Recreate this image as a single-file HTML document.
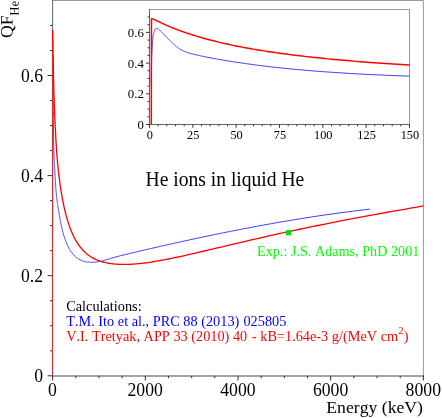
<!DOCTYPE html>
<html><head><meta charset="utf-8"><title>QF He</title>
<style>
html,body{margin:0;padding:0;background:#fff;}
svg{display:block;font-family:"Liberation Serif",serif;font-kerning:none;}
</style></head>
<body>
<svg width="442" height="418" viewBox="0 0 442 418">
<rect width="442" height="418" fill="#fff"/>
<path d="M52.60,0.5 H423.40 V376.5" fill="none" stroke="#999" stroke-width="1"/>
<g stroke="#666" stroke-width="1" fill="none">
<line x1="52.60" y1="0" x2="52.60" y2="376.30"/>
<line x1="52.10" y1="376" x2="423.90" y2="376" stroke="#484848"/>
</g>
<g stroke="#333" stroke-width="1" fill="none">
<line x1="47.60" y1="375.80" x2="52.60" y2="375.80"/>
<line x1="50.00" y1="350.78" x2="52.60" y2="350.78"/>
<line x1="50.00" y1="325.75" x2="52.60" y2="325.75"/>
<line x1="50.00" y1="300.73" x2="52.60" y2="300.73"/>
<line x1="47.60" y1="275.70" x2="52.60" y2="275.70"/>
<line x1="50.00" y1="250.68" x2="52.60" y2="250.68"/>
<line x1="50.00" y1="225.65" x2="52.60" y2="225.65"/>
<line x1="50.00" y1="200.62" x2="52.60" y2="200.62"/>
<line x1="47.60" y1="175.60" x2="52.60" y2="175.60"/>
<line x1="50.00" y1="150.58" x2="52.60" y2="150.58"/>
<line x1="50.00" y1="125.55" x2="52.60" y2="125.55"/>
<line x1="50.00" y1="100.52" x2="52.60" y2="100.52"/>
<line x1="47.60" y1="75.50" x2="52.60" y2="75.50"/>
<line x1="50.00" y1="50.48" x2="52.60" y2="50.48"/>
<line x1="50.00" y1="25.45" x2="52.60" y2="25.45"/>
<line x1="52.60" y1="375.80" x2="52.60" y2="380.50"/>
<line x1="75.78" y1="375.80" x2="75.78" y2="378.20"/>
<line x1="98.95" y1="375.80" x2="98.95" y2="378.20"/>
<line x1="122.12" y1="375.80" x2="122.12" y2="378.20"/>
<line x1="145.30" y1="375.80" x2="145.30" y2="380.50"/>
<line x1="168.47" y1="375.80" x2="168.47" y2="378.20"/>
<line x1="191.65" y1="375.80" x2="191.65" y2="378.20"/>
<line x1="214.82" y1="375.80" x2="214.82" y2="378.20"/>
<line x1="238.00" y1="375.80" x2="238.00" y2="380.50"/>
<line x1="261.18" y1="375.80" x2="261.18" y2="378.20"/>
<line x1="284.35" y1="375.80" x2="284.35" y2="378.20"/>
<line x1="307.53" y1="375.80" x2="307.53" y2="378.20"/>
<line x1="330.70" y1="375.80" x2="330.70" y2="380.50"/>
<line x1="353.88" y1="375.80" x2="353.88" y2="378.20"/>
<line x1="377.05" y1="375.80" x2="377.05" y2="378.20"/>
<line x1="400.23" y1="375.80" x2="400.23" y2="378.20"/>
<line x1="423.40" y1="375.80" x2="423.40" y2="380.50"/>
</g>
<path d="M52.65,233.23 L52.65,222.92 L52.65,213.44 L52.65,204.74 L52.65,196.77 L52.65,189.51 L52.65,182.90 L52.65,176.90 L52.65,171.47 L52.65,166.57 L52.66,162.16 L52.66,158.19 L52.66,154.62 L52.66,151.41 L52.66,148.53 L52.66,145.91 L52.66,143.53 L52.66,141.35 L52.66,139.31 L52.66,137.38 L52.67,135.52 L52.67,133.68 L52.67,131.82 L52.67,129.90 L52.67,127.87 L52.67,125.70 L52.67,123.36 L52.67,120.86 L52.68,118.24 L52.68,115.52 L52.68,112.76 L52.68,109.97 L52.68,107.19 L52.68,104.46 L52.68,101.81 L52.69,99.27 L52.69,96.87 L52.69,94.64 L52.69,92.56 L52.69,90.63 L52.69,88.83 L52.70,87.16 L52.70,85.61 L52.70,84.18 L52.70,82.85 L52.70,81.62 L52.70,80.48 L52.71,79.42 L52.71,78.44 L52.71,77.52 L52.71,76.66 L52.71,75.85 L52.72,75.09 L52.72,74.36 L52.72,73.65 L52.72,72.97 L52.72,72.31 L52.73,71.67 L52.73,71.05 L52.73,70.46 L52.73,69.88 L52.74,69.32 L52.74,68.79 L52.74,68.28 L52.74,67.79 L52.75,67.33 L52.75,66.89 L52.75,66.47 L52.75,66.07 L52.76,65.70 L52.76,65.35 L52.76,65.03 L52.77,64.73 L52.77,64.46 L52.77,64.21 L52.77,63.98 L52.78,63.78 L52.78,63.61 L52.78,63.47 L52.79,63.34 L52.79,63.25 L52.79,63.18 L52.80,63.14 L52.80,63.13 L52.80,63.15 L52.81,63.19 L52.81,63.26 L52.82,63.36 L52.82,63.49 L52.82,63.65 L52.83,63.83 L52.83,64.05 L52.84,64.29 L52.84,64.57 L52.84,64.87 L52.85,65.21 L52.85,65.57 L52.86,65.97 L52.86,66.40 L52.87,66.85 L52.87,67.35 L52.88,67.87 L52.88,68.42 L52.89,68.99 L52.89,69.60 L52.90,70.24 L52.90,70.90 L52.91,71.58 L52.91,72.30 L52.92,73.03 L52.92,73.79 L52.93,74.58 L52.94,75.38 L52.94,76.21 L52.95,77.05 L52.95,77.92 L52.96,78.81 L52.97,79.71 L52.97,80.63 L52.98,81.57 L52.99,82.53 L52.99,83.50 L53.00,84.48 L53.01,85.48 L53.02,86.49 L53.02,87.52 L53.03,88.55 L53.04,89.60 L53.05,90.66 L53.05,91.72 L53.06,92.80 L53.07,93.88 L53.08,94.97 L53.09,96.07 L53.10,97.17 L53.11,98.28 L53.11,99.39 L53.12,100.51 L53.13,101.62 L53.14,102.74 L53.15,103.87 L53.16,104.99 L53.17,106.12 L53.18,107.24 L53.19,108.37 L53.20,109.49 L53.21,110.62 L53.23,111.74 L53.24,112.86 L53.25,113.98 L53.26,115.10 L53.27,116.21 L53.28,117.32 L53.30,118.43 L53.31,119.53 L53.32,120.62 L53.33,121.71 L53.35,122.80 L53.36,123.87 L53.37,124.94 L53.39,126.01 L53.40,127.06 L53.42,128.11 L53.43,129.14 L53.44,130.17 L53.46,131.19 L53.47,132.20 L53.49,133.19 L53.51,134.18 L53.52,135.15 L53.54,136.11 L53.56,137.06 L53.57,138.00 L53.59,138.92 L53.61,139.82 L53.63,140.72 L53.64,141.59 L53.66,142.45 L53.68,143.30 L53.70,144.13 L53.72,144.94 L53.74,145.74 L53.76,146.52 L53.78,147.29 L53.80,148.04 L53.82,148.78 L53.85,149.51 L53.87,150.23 L53.89,150.94 L53.91,151.63 L53.94,152.32 L53.96,153.00 L53.99,153.67 L54.01,154.34 L54.04,154.99 L54.06,155.64 L54.09,156.29 L54.11,156.93 L54.14,157.57 L54.17,158.20 L54.20,158.84 L54.23,159.47 L54.25,160.09 L54.28,160.72 L54.31,161.35 L54.34,161.98 L54.38,162.61 L54.41,163.25 L54.44,163.89 L54.47,164.53 L54.51,165.17 L54.54,165.82 L54.57,166.48 L54.61,167.14 L54.65,167.81 L54.68,168.49 L54.72,169.18 L54.76,169.87 L54.80,170.58 L54.84,171.30 L54.88,172.03 L54.92,172.77 L54.96,173.52 L55.00,174.29 L55.04,175.07 L55.09,175.85 L55.13,176.65 L55.18,177.46 L55.22,178.28 L55.27,179.10 L55.32,179.92 L55.36,180.75 L55.41,181.58 L55.46,182.41 L55.51,183.24 L55.57,184.07 L55.62,184.90 L55.67,185.72 L55.73,186.54 L55.78,187.34 L55.84,188.15 L55.90,188.94 L55.96,189.72 L56.02,190.49 L56.08,191.25 L56.14,191.99 L56.20,192.72 L56.27,193.43 L56.33,194.12 L56.40,194.81 L56.47,195.48 L56.54,196.14 L56.61,196.78 L56.68,197.42 L56.75,198.05 L56.83,198.67 L56.90,199.29 L56.98,199.89 L57.06,200.50 L57.14,201.09 L57.22,201.69 L57.30,202.28 L57.38,202.87 L57.47,203.46 L57.56,204.05 L57.65,204.65 L57.74,205.24 L57.83,205.84 L57.92,206.44 L58.02,207.05 L58.11,207.66 L58.21,208.28 L58.31,208.91 L58.41,209.54 L58.52,210.17 L58.62,210.82 L58.73,211.47 L58.84,212.13 L58.95,212.79 L59.06,213.46 L59.18,214.14 L59.30,214.82 L59.42,215.52 L59.54,216.22 L59.66,216.92 L59.79,217.64 L59.92,218.36 L60.05,219.08 L60.18,219.81 L60.32,220.54 L60.45,221.27 L60.59,222.00 L60.74,222.73 L60.88,223.46 L61.03,224.19 L61.18,224.91 L61.33,225.63 L61.49,226.35 L61.65,227.07 L61.81,227.78 L61.97,228.49 L62.14,229.19 L62.31,229.89 L62.49,230.59 L62.66,231.28 L62.84,231.97 L63.02,232.65 L63.21,233.33 L63.40,234.01 L63.59,234.68 L63.79,235.34 L63.99,236.00 L64.19,236.66 L64.40,237.31 L64.61,237.95 L64.82,238.59 L65.04,239.23 L65.26,239.85 L65.49,240.48 L65.72,241.09 L65.96,241.70 L66.19,242.31 L66.44,242.90 L66.68,243.49 L66.93,244.08 L67.19,244.65 L67.45,245.22 L67.72,245.79 L67.99,246.34 L68.26,246.89 L68.54,247.44 L68.83,247.97 L69.12,248.50 L69.41,249.01 L69.71,249.53 L70.02,250.03 L70.33,250.52 L70.64,251.01 L70.97,251.49 L71.29,251.96 L71.63,252.42 L71.97,252.87 L72.31,253.31 L72.66,253.75 L73.02,254.17 L73.39,254.59 L73.76,254.99 L74.14,255.39 L74.52,255.78 L74.91,256.15 L75.31,256.52 L75.72,256.88 L76.13,257.22 L76.55,257.56 L76.98,257.89 L77.41,258.20 L77.86,258.51 L78.31,258.80 L78.77,259.09 L79.23,259.36 L79.71,259.62 L80.19,259.87 L80.68,260.11 L81.19,260.33 L81.70,260.55 L82.22,260.75 L82.75,260.94 L83.28,261.12 L83.83,261.29 L84.39,261.45 L84.96,261.59 L85.53,261.72 L86.12,261.83 L86.72,261.94 L87.33,262.03 L87.95,262.11 L88.58,262.17 L89.22,262.22 L89.88,262.26 L90.54,262.29 L91.22,262.30 L91.91,262.29 L92.61,262.28 L93.33,262.25 L94.05,262.20 L94.79,262.14 L95.55,262.07 L96.31,261.98 L97.10,261.88 L97.89,261.76 L98.70,261.63 L99.52,261.48 L100.36,261.32 L101.21,261.14 L102.08,260.94 L102.96,260.72 L103.86,260.48 L104.78,260.23 L105.71,259.97 L106.66,259.69 L107.62,259.41 L108.61,259.11 L109.61,258.81 L110.62,258.50 L111.66,258.19 L112.71,257.88 L113.79,257.56 L114.88,257.25 L115.99,256.94 L117.12,256.63 L118.28,256.31 L119.45,256.01 L120.64,255.70 L121.86,255.39 L123.09,255.09 L124.35,254.78 L125.63,254.47 L126.94,254.16 L128.27,253.84 L129.62,253.52 L130.99,253.19 L132.39,252.86 L133.82,252.52 L135.27,252.18 L136.74,251.83 L138.25,251.48 L139.77,251.12 L141.33,250.76 L142.92,250.39 L144.53,250.01 L146.17,249.63 L147.84,249.24 L149.54,248.85 L151.27,248.45 L153.03,248.05 L154.83,247.63 L156.65,247.22 L158.51,246.79 L160.40,246.36 L162.33,245.93 L164.29,245.48 L166.28,245.03 L168.31,244.58 L170.38,244.11 L172.48,243.65 L174.62,243.17 L176.80,242.69 L179.02,242.20 L181.27,241.70 L183.57,241.19 L185.91,240.68 L188.29,240.17 L190.71,239.64 L193.18,239.11 L195.69,238.57 L198.24,238.02 L200.84,237.47 L203.49,236.91 L206.19,236.34 L208.93,235.77 L211.72,235.19 L214.56,234.60 L217.45,234.00 L220.40,233.40 L223.39,232.79 L226.44,232.18 L229.55,231.56 L232.71,230.93 L235.92,230.29 L239.19,229.65 L242.53,229.01 L245.92,228.35 L249.37,227.70 L252.88,227.03 L256.46,226.36 L260.10,225.69 L263.80,225.01 L267.58,224.33 L271.41,223.64 L275.32,222.95 L279.30,222.26 L283.35,221.56 L287.47,220.86 L291.66,220.16 L295.93,219.45 L300.27,218.75 L304.70,218.04 L309.20,217.34 L313.78,216.63 L318.44,215.93 L323.19,215.23 L328.02,214.53 L332.94,213.83 L337.94,213.14 L343.04,212.45 L348.23,211.77 L353.50,211.10 L358.88,210.44 L364.35,209.78 L369.91,209.14" fill="none" stroke="#3030ff" stroke-width="0.95"/>
<line x1="52.50" y1="375.80" x2="52.50" y2="30.09" stroke="#cc3030" stroke-width="1.1"/>
<path d="M52.66,30.09 L52.66,30.21 L52.66,30.32 L52.66,30.43 L52.66,30.54 L52.66,30.65 L52.66,30.76 L52.66,30.86 L52.66,30.96 L52.67,31.06 L52.67,31.15 L52.67,31.25 L52.67,31.34 L52.67,31.43 L52.67,31.52 L52.67,31.60 L52.67,31.69 L52.68,31.77 L52.68,31.86 L52.68,31.94 L52.68,32.02 L52.68,32.10 L52.68,32.18 L52.68,32.26 L52.68,32.34 L52.69,32.41 L52.69,32.49 L52.69,32.57 L52.69,32.64 L52.69,32.72 L52.69,32.80 L52.70,32.87 L52.70,32.95 L52.70,33.03 L52.70,33.10 L52.70,33.18 L52.70,33.26 L52.71,33.34 L52.71,33.42 L52.71,33.50 L52.71,33.58 L52.71,33.66 L52.72,33.74 L52.72,33.83 L52.72,33.92 L52.72,34.00 L52.73,34.09 L52.73,34.18 L52.73,34.27 L52.73,34.37 L52.73,34.46 L52.74,34.56 L52.74,34.66 L52.74,34.76 L52.74,34.87 L52.75,34.98 L52.75,35.08 L52.75,35.20 L52.75,35.31 L52.76,35.43 L52.76,35.55 L52.76,35.67 L52.77,35.80 L52.77,35.93 L52.77,36.06 L52.78,36.20 L52.78,36.34 L52.78,36.48 L52.78,36.63 L52.79,36.78 L52.79,36.93 L52.79,37.09 L52.80,37.25 L52.80,37.42 L52.81,37.59 L52.81,37.77 L52.81,37.95 L52.82,38.13 L52.82,38.32 L52.82,38.51 L52.83,38.71 L52.83,38.92 L52.84,39.13 L52.84,39.34 L52.84,39.56 L52.85,39.78 L52.85,40.01 L52.86,40.25 L52.86,40.49 L52.87,40.74 L52.87,40.99 L52.88,41.25 L52.88,41.51 L52.89,41.78 L52.89,42.06 L52.90,42.34 L52.90,42.63 L52.91,42.93 L52.91,43.23 L52.92,43.54 L52.92,43.85 L52.93,44.18 L52.94,44.51 L52.94,44.84 L52.95,45.19 L52.95,45.54 L52.96,45.90 L52.97,46.27 L52.97,46.64 L52.98,47.02 L52.99,47.41 L52.99,47.81 L53.00,48.21 L53.01,48.62 L53.02,49.04 L53.02,49.47 L53.03,49.90 L53.04,50.34 L53.05,50.79 L53.05,51.24 L53.06,51.70 L53.07,52.17 L53.08,52.65 L53.09,53.13 L53.10,53.62 L53.10,54.11 L53.11,54.62 L53.12,55.13 L53.13,55.65 L53.14,56.17 L53.15,56.70 L53.16,57.24 L53.17,57.78 L53.18,58.33 L53.19,58.89 L53.20,59.46 L53.21,60.03 L53.22,60.60 L53.23,61.19 L53.25,61.78 L53.26,62.37 L53.27,62.98 L53.28,63.59 L53.29,64.20 L53.31,64.82 L53.32,65.45 L53.33,66.09 L53.34,66.73 L53.36,67.38 L53.37,68.03 L53.38,68.69 L53.40,69.35 L53.41,70.03 L53.43,70.70 L53.44,71.39 L53.46,72.08 L53.47,72.77 L53.49,73.47 L53.50,74.18 L53.52,74.89 L53.54,75.61 L53.55,76.33 L53.57,77.06 L53.59,77.80 L53.60,78.54 L53.62,79.29 L53.64,80.04 L53.66,80.80 L53.68,81.56 L53.70,82.33 L53.72,83.11 L53.74,83.89 L53.76,84.67 L53.78,85.46 L53.80,86.26 L53.82,87.06 L53.84,87.87 L53.86,88.68 L53.89,89.49 L53.91,90.32 L53.93,91.14 L53.96,91.98 L53.98,92.81 L54.00,93.66 L54.03,94.50 L54.06,95.36 L54.08,96.21 L54.11,97.07 L54.13,97.94 L54.16,98.81 L54.19,99.69 L54.22,100.57 L54.25,101.46 L54.28,102.35 L54.31,103.24 L54.34,104.14 L54.37,105.05 L54.40,105.95 L54.43,106.87 L54.46,107.79 L54.50,108.71 L54.53,109.63 L54.56,110.57 L54.60,111.50 L54.63,112.44 L54.67,113.39 L54.71,114.33 L54.75,115.29 L54.78,116.24 L54.82,117.20 L54.86,118.17 L54.90,119.14 L54.94,120.11 L54.98,121.09 L55.03,122.07 L55.07,123.05 L55.11,124.04 L55.16,125.03 L55.20,126.03 L55.25,127.02 L55.30,128.02 L55.35,129.03 L55.40,130.03 L55.45,131.04 L55.50,132.04 L55.55,133.05 L55.60,134.07 L55.65,135.08 L55.71,136.09 L55.76,137.11 L55.82,138.12 L55.88,139.14 L55.93,140.15 L55.99,141.17 L56.05,142.18 L56.12,143.20 L56.18,144.21 L56.24,145.22 L56.31,146.24 L56.37,147.25 L56.44,148.26 L56.51,149.26 L56.58,150.27 L56.65,151.27 L56.72,152.28 L56.79,153.28 L56.87,154.27 L56.95,155.27 L57.02,156.26 L57.10,157.24 L57.18,158.23 L57.26,159.21 L57.35,160.18 L57.43,161.16 L57.52,162.12 L57.60,163.09 L57.69,164.05 L57.78,165.01 L57.88,165.96 L57.97,166.91 L58.07,167.86 L58.16,168.81 L58.26,169.75 L58.36,170.69 L58.47,171.63 L58.57,172.57 L58.68,173.51 L58.78,174.44 L58.89,175.37 L59.01,176.31 L59.12,177.24 L59.24,178.17 L59.35,179.10 L59.47,180.03 L59.60,180.97 L59.72,181.90 L59.85,182.83 L59.98,183.76 L60.11,184.69 L60.24,185.62 L60.38,186.56 L60.52,187.49 L60.66,188.42 L60.80,189.35 L60.95,190.28 L61.10,191.21 L61.25,192.14 L61.40,193.07 L61.56,193.99 L61.72,194.92 L61.88,195.85 L62.05,196.78 L62.21,197.70 L62.38,198.63 L62.56,199.56 L62.74,200.48 L62.92,201.40 L63.10,202.33 L63.29,203.25 L63.48,204.17 L63.67,205.09 L63.87,206.01 L64.07,206.92 L64.27,207.84 L64.48,208.75 L64.69,209.66 L64.91,210.57 L65.13,211.47 L65.35,212.38 L65.58,213.28 L65.81,214.17 L66.04,215.07 L66.28,215.96 L66.52,216.85 L66.77,217.73 L67.03,218.61 L67.28,219.49 L67.54,220.36 L67.81,221.23 L68.08,222.09 L68.36,222.95 L68.64,223.81 L68.92,224.66 L69.21,225.50 L69.51,226.34 L69.81,227.17 L70.12,228.00 L70.43,228.83 L70.74,229.64 L71.07,230.45 L71.40,231.26 L71.73,232.06 L72.07,232.85 L72.42,233.64 L72.77,234.42 L73.13,235.19 L73.50,235.96 L73.87,236.71 L74.25,237.47 L74.63,238.21 L75.02,238.94 L75.42,239.67 L75.83,240.39 L76.24,241.10 L76.66,241.81 L77.09,242.50 L77.53,243.19 L77.97,243.87 L78.42,244.54 L78.88,245.20 L79.35,245.85 L79.83,246.49 L80.31,247.12 L80.80,247.74 L81.31,248.35 L81.82,248.95 L82.34,249.55 L82.87,250.13 L83.41,250.70 L83.95,251.26 L84.51,251.81 L85.08,252.35 L85.66,252.87 L86.25,253.39 L86.85,253.89 L87.46,254.39 L88.08,254.87 L88.71,255.34 L89.35,255.80 L90.01,256.25 L90.67,256.69 L91.35,257.11 L92.04,257.52 L92.74,257.93 L93.46,258.32 L94.18,258.69 L94.92,259.06 L95.68,259.42 L96.44,259.76 L97.22,260.09 L98.02,260.41 L98.83,260.72 L99.65,261.01 L100.49,261.29 L101.34,261.56 L102.21,261.81 L103.09,262.05 L103.99,262.28 L104.90,262.49 L105.83,262.70 L106.78,262.89 L107.75,263.07 L108.73,263.24 L109.73,263.40 L110.74,263.55 L111.78,263.68 L112.83,263.81 L113.91,263.93 L115.00,264.03 L116.11,264.12 L117.24,264.21 L118.39,264.28 L119.56,264.34 L120.75,264.38 L121.97,264.42 L123.20,264.44 L124.46,264.44 L125.74,264.44 L127.04,264.41 L128.36,264.37 L129.71,264.32 L131.08,264.26 L132.48,264.17 L133.90,264.08 L135.35,263.97 L136.82,263.84 L138.32,263.70 L139.85,263.55 L141.40,263.38 L142.98,263.19 L144.59,262.99 L146.23,262.78 L147.90,262.55 L149.59,262.30 L151.32,262.04 L153.08,261.76 L154.87,261.47 L156.69,261.16 L158.54,260.84 L160.43,260.50 L162.34,260.15 L164.30,259.78 L166.29,259.40 L168.31,259.00 L170.37,258.59 L172.47,258.16 L174.60,257.71 L176.77,257.26 L178.98,256.78 L181.23,256.29 L183.52,255.79 L185.85,255.27 L188.23,254.74 L190.64,254.19 L193.10,253.63 L195.60,253.06 L198.14,252.47 L200.73,251.87 L203.37,251.25 L206.06,250.62 L208.79,249.98 L211.57,249.32 L214.40,248.65 L217.28,247.97 L220.21,247.27 L223.19,246.57 L226.23,245.85 L229.32,245.11 L232.47,244.37 L235.67,243.62 L238.93,242.85 L242.24,242.07 L245.62,241.28 L249.06,240.49 L252.55,239.68 L256.11,238.86 L259.74,238.03 L263.42,237.19 L267.18,236.34 L271.00,235.48 L274.88,234.62 L278.84,233.74 L282.87,232.86 L286.97,231.97 L291.14,231.06 L295.39,230.16 L299.71,229.24 L304.11,228.32 L308.58,227.38 L313.14,226.45 L317.78,225.50 L322.50,224.55 L327.30,223.58 L332.20,222.62 L337.17,221.64 L342.24,220.66 L347.39,219.67 L352.64,218.67 L357.98,217.66 L363.42,216.65 L368.95,215.63 L374.58,214.60 L380.32,213.56 L386.15,212.51 L392.09,211.45 L398.13,210.38 L404.28,209.29 L410.54,208.20 L416.91,207.09 L423.40,205.97" fill="none" stroke="#ff0000" stroke-width="1.3" stroke-linejoin="round"/>
<rect x="286" y="230.1" width="5.2" height="5.2" fill="#00e000"/>
<rect x="149.50" y="9.5" width="260.00" height="115.00" fill="#fff" stroke="#999" stroke-width="1"/>
<g stroke="#666" stroke-width="1" fill="none">
<line x1="149.50" y1="9" x2="149.50" y2="125.00"/>
<line x1="149.00" y1="124.50" x2="410.00" y2="124.50"/>
</g>
<g stroke="#333" stroke-width="1" fill="none">
<line x1="146.00" y1="124.50" x2="149.50" y2="124.50"/>
<line x1="147.50" y1="116.83" x2="149.50" y2="116.83"/>
<line x1="147.50" y1="109.15" x2="149.50" y2="109.15"/>
<line x1="147.50" y1="101.47" x2="149.50" y2="101.47"/>
<line x1="146.00" y1="93.80" x2="149.50" y2="93.80"/>
<line x1="147.50" y1="86.12" x2="149.50" y2="86.12"/>
<line x1="147.50" y1="78.45" x2="149.50" y2="78.45"/>
<line x1="147.50" y1="70.77" x2="149.50" y2="70.77"/>
<line x1="146.00" y1="63.10" x2="149.50" y2="63.10"/>
<line x1="147.50" y1="55.42" x2="149.50" y2="55.42"/>
<line x1="147.50" y1="47.75" x2="149.50" y2="47.75"/>
<line x1="147.50" y1="40.07" x2="149.50" y2="40.07"/>
<line x1="146.00" y1="32.40" x2="149.50" y2="32.40"/>
<line x1="147.50" y1="24.72" x2="149.50" y2="24.72"/>
<line x1="147.50" y1="17.05" x2="149.50" y2="17.05"/>
<line x1="149.50" y1="124.50" x2="149.50" y2="127.80"/>
<line x1="158.17" y1="124.50" x2="158.17" y2="126.30"/>
<line x1="166.83" y1="124.50" x2="166.83" y2="126.30"/>
<line x1="175.50" y1="124.50" x2="175.50" y2="126.30"/>
<line x1="184.17" y1="124.50" x2="184.17" y2="126.30"/>
<line x1="192.83" y1="124.50" x2="192.83" y2="127.80"/>
<line x1="201.50" y1="124.50" x2="201.50" y2="126.30"/>
<line x1="210.17" y1="124.50" x2="210.17" y2="126.30"/>
<line x1="218.83" y1="124.50" x2="218.83" y2="126.30"/>
<line x1="227.50" y1="124.50" x2="227.50" y2="126.30"/>
<line x1="236.17" y1="124.50" x2="236.17" y2="127.80"/>
<line x1="244.83" y1="124.50" x2="244.83" y2="126.30"/>
<line x1="253.50" y1="124.50" x2="253.50" y2="126.30"/>
<line x1="262.16" y1="124.50" x2="262.16" y2="126.30"/>
<line x1="270.83" y1="124.50" x2="270.83" y2="126.30"/>
<line x1="279.50" y1="124.50" x2="279.50" y2="127.80"/>
<line x1="288.16" y1="124.50" x2="288.16" y2="126.30"/>
<line x1="296.83" y1="124.50" x2="296.83" y2="126.30"/>
<line x1="305.50" y1="124.50" x2="305.50" y2="126.30"/>
<line x1="314.16" y1="124.50" x2="314.16" y2="126.30"/>
<line x1="322.83" y1="124.50" x2="322.83" y2="127.80"/>
<line x1="331.50" y1="124.50" x2="331.50" y2="126.30"/>
<line x1="340.16" y1="124.50" x2="340.16" y2="126.30"/>
<line x1="348.83" y1="124.50" x2="348.83" y2="126.30"/>
<line x1="357.50" y1="124.50" x2="357.50" y2="126.30"/>
<line x1="366.16" y1="124.50" x2="366.16" y2="127.80"/>
<line x1="374.83" y1="124.50" x2="374.83" y2="126.30"/>
<line x1="383.50" y1="124.50" x2="383.50" y2="126.30"/>
<line x1="392.16" y1="124.50" x2="392.16" y2="126.30"/>
<line x1="400.83" y1="124.50" x2="400.83" y2="126.30"/>
<line x1="409.50" y1="124.50" x2="409.50" y2="127.80"/>
</g>
<path d="M151.23,85.17 L151.26,81.50 L151.29,78.13 L151.32,75.03 L151.35,72.19 L151.38,69.60 L151.42,67.25 L151.45,65.12 L151.48,63.20 L151.52,61.47 L151.55,59.93 L151.58,58.55 L151.62,57.32 L151.66,56.22 L151.69,55.26 L151.73,54.40 L151.77,53.64 L151.80,52.96 L151.84,52.35 L151.88,51.80 L151.92,51.29 L151.96,50.80 L152.01,50.33 L152.05,49.85 L152.09,49.36 L152.14,48.84 L152.18,48.28 L152.23,47.66 L152.27,46.98 L152.32,46.26 L152.37,45.49 L152.41,44.69 L152.46,43.87 L152.51,43.03 L152.56,42.18 L152.62,41.34 L152.67,40.51 L152.72,39.69 L152.78,38.91 L152.83,38.16 L152.89,37.46 L152.95,36.83 L153.00,36.27 L153.06,35.76 L153.12,35.31 L153.18,34.91 L153.25,34.55 L153.31,34.24 L153.37,33.96 L153.44,33.71 L153.51,33.48 L153.57,33.28 L153.64,33.09 L153.71,32.92 L153.78,32.75 L153.86,32.58 L153.93,32.41 L154.01,32.23 L154.08,32.03 L154.16,31.83 L154.24,31.62 L154.32,31.40 L154.40,31.18 L154.48,30.96 L154.57,30.74 L154.65,30.51 L154.74,30.30 L154.83,30.09 L154.92,29.88 L155.01,29.69 L155.10,29.52 L155.20,29.35 L155.29,29.20 L155.39,29.06 L155.49,28.94 L155.59,28.83 L155.69,28.73 L155.80,28.64 L155.91,28.56 L156.01,28.50 L156.12,28.44 L156.24,28.40 L156.35,28.37 L156.47,28.35 L156.58,28.34 L156.70,28.34 L156.82,28.35 L156.95,28.37 L157.07,28.40 L157.20,28.43 L157.33,28.48 L157.46,28.53 L157.60,28.59 L157.74,28.66 L157.88,28.74 L158.02,28.83 L158.16,28.92 L158.31,29.02 L158.46,29.12 L158.61,29.23 L158.76,29.35 L158.92,29.47 L159.08,29.60 L159.24,29.74 L159.40,29.88 L159.57,30.02 L159.74,30.18 L159.91,30.33 L160.09,30.50 L160.27,30.66 L160.45,30.84 L160.64,31.02 L160.82,31.20 L161.02,31.39 L161.21,31.59 L161.41,31.79 L161.61,31.99 L161.81,32.20 L162.02,32.42 L162.23,32.64 L162.45,32.86 L162.67,33.09 L162.89,33.33 L163.12,33.57 L163.35,33.81 L163.58,34.06 L163.82,34.32 L164.06,34.57 L164.31,34.84 L164.56,35.10 L164.81,35.37 L165.07,35.65 L165.33,35.93 L165.60,36.21 L165.87,36.50 L166.15,36.79 L166.43,37.09 L166.72,37.39 L167.01,37.69 L167.30,38.00 L167.60,38.31 L167.91,38.63 L168.22,38.95 L168.54,39.27 L168.86,39.59 L169.19,39.92 L169.52,40.26 L169.86,40.59 L170.20,40.93 L170.55,41.28 L170.91,41.62 L171.27,41.97 L171.64,42.33 L172.01,42.68 L172.39,43.04 L172.78,43.40 L173.17,43.77 L173.57,44.13 L173.98,44.50 L174.39,44.86 L174.81,45.23 L175.24,45.60 L175.68,45.96 L176.12,46.32 L176.57,46.68 L177.02,47.03 L177.49,47.39 L177.96,47.73 L178.44,48.07 L178.93,48.41 L179.43,48.73 L179.94,49.05 L180.45,49.37 L180.97,49.67 L181.51,49.96 L182.05,50.25 L182.60,50.52 L183.16,50.79 L183.72,51.05 L184.30,51.30 L184.89,51.55 L185.49,51.78 L186.10,52.01 L186.72,52.24 L187.34,52.46 L187.98,52.67 L188.63,52.88 L189.30,53.08 L189.97,53.28 L190.65,53.48 L191.35,53.67 L192.06,53.86 L192.77,54.04 L193.51,54.23 L194.25,54.41 L195.01,54.59 L195.77,54.77 L196.56,54.95 L197.35,55.13 L198.16,55.31 L198.98,55.49 L199.82,55.67 L200.67,55.85 L201.53,56.04 L202.41,56.22 L203.31,56.41 L204.22,56.60 L205.14,56.78 L206.08,56.97 L207.04,57.16 L208.01,57.36 L209.00,57.55 L210.00,57.74 L211.03,57.94 L212.07,58.13 L213.12,58.33 L214.20,58.53 L215.29,58.73 L216.40,58.93 L217.54,59.14 L218.68,59.34 L219.85,59.54 L221.04,59.75 L222.25,59.96 L223.48,60.17 L224.73,60.38 L226.00,60.59 L227.30,60.80 L228.61,61.01 L229.95,61.23 L231.31,61.45 L232.69,61.66 L234.10,61.88 L235.52,62.10 L236.98,62.32 L238.46,62.55 L239.96,62.77 L241.49,63.00 L243.04,63.22 L244.62,63.45 L246.23,63.68 L247.87,63.91 L249.53,64.14 L251.22,64.37 L252.94,64.60 L254.69,64.83 L256.46,65.06 L258.27,65.30 L260.11,65.53 L261.98,65.76 L263.88,66.00 L265.81,66.23 L267.78,66.46 L269.78,66.70 L271.81,66.93 L273.88,67.17 L275.98,67.40 L278.12,67.63 L280.29,67.86 L282.50,68.10 L284.75,68.33 L287.03,68.56 L289.36,68.79 L291.72,69.02 L294.12,69.25 L296.57,69.48 L299.05,69.70 L301.58,69.93 L304.15,70.15 L306.76,70.38 L309.42,70.60 L312.12,70.82 L314.87,71.04 L317.67,71.26 L320.51,71.47 L323.40,71.69 L326.34,71.90 L329.33,72.11 L332.36,72.32 L335.45,72.53 L338.60,72.74 L341.79,72.94 L345.04,73.14 L348.35,73.34 L351.71,73.54 L355.12,73.73 L358.60,73.92 L362.13,74.11 L365.73,74.30 L369.38,74.48 L373.10,74.67 L376.87,74.84 L380.72,75.02 L384.62,75.19 L388.60,75.36 L392.64,75.53 L396.75,75.69 L400.93,75.85 L405.17,76.01 L409.49,76.16" fill="none" stroke="#3030ff" stroke-width="0.95"/>
<line x1="151.33" y1="124.50" x2="151.48" y2="18.20" stroke="#ff0000" stroke-width="1.5"/>
<path d="M151.58,18.80 L151.61,18.80 L151.65,18.80 L151.68,18.80 L151.72,18.80 L151.75,18.80 L151.79,18.80 L151.83,18.81 L151.87,18.81 L151.91,18.81 L151.94,18.82 L151.98,18.82 L152.02,18.83 L152.07,18.83 L152.11,18.84 L152.15,18.84 L152.19,18.85 L152.24,18.86 L152.28,18.87 L152.33,18.87 L152.37,18.88 L152.42,18.89 L152.47,18.90 L152.52,18.91 L152.56,18.93 L152.61,18.94 L152.67,18.95 L152.72,18.96 L152.77,18.98 L152.82,18.99 L152.88,19.01 L152.93,19.03 L152.99,19.04 L153.04,19.06 L153.10,19.08 L153.16,19.10 L153.22,19.12 L153.28,19.14 L153.34,19.16 L153.40,19.18 L153.47,19.20 L153.53,19.22 L153.60,19.25 L153.67,19.27 L153.73,19.30 L153.80,19.33 L153.87,19.35 L153.94,19.38 L154.02,19.41 L154.09,19.44 L154.16,19.47 L154.24,19.50 L154.32,19.53 L154.39,19.56 L154.47,19.60 L154.56,19.63 L154.64,19.67 L154.72,19.70 L154.81,19.74 L154.89,19.78 L154.98,19.82 L155.07,19.86 L155.16,19.90 L155.25,19.94 L155.35,19.98 L155.44,20.03 L155.54,20.07 L155.64,20.12 L155.74,20.16 L155.84,20.21 L155.94,20.26 L156.05,20.31 L156.15,20.36 L156.26,20.41 L156.37,20.46 L156.48,20.51 L156.60,20.57 L156.71,20.62 L156.83,20.68 L156.95,20.74 L157.07,20.80 L157.19,20.85 L157.32,20.92 L157.45,20.98 L157.58,21.04 L157.71,21.10 L157.84,21.17 L157.98,21.23 L158.11,21.30 L158.25,21.37 L158.40,21.44 L158.54,21.51 L158.69,21.58 L158.84,21.65 L158.99,21.73 L159.14,21.80 L159.30,21.88 L159.46,21.96 L159.62,22.03 L159.79,22.11 L159.96,22.20 L160.13,22.28 L160.30,22.36 L160.47,22.45 L160.65,22.53 L160.84,22.62 L161.02,22.71 L161.21,22.80 L161.40,22.89 L161.59,22.98 L161.79,23.07 L161.99,23.17 L162.19,23.27 L162.40,23.36 L162.61,23.46 L162.82,23.56 L163.04,23.66 L163.26,23.77 L163.48,23.87 L163.71,23.98 L163.94,24.08 L164.18,24.19 L164.42,24.30 L164.66,24.41 L164.91,24.52 L165.16,24.64 L165.41,24.75 L165.67,24.87 L165.93,24.99 L166.20,25.11 L166.47,25.23 L166.75,25.35 L167.03,25.47 L167.32,25.60 L167.61,25.73 L167.90,25.85 L168.20,25.98 L168.50,26.12 L168.81,26.25 L169.13,26.38 L169.45,26.52 L169.77,26.66 L170.10,26.80 L170.44,26.94 L170.78,27.08 L171.12,27.22 L171.48,27.37 L171.83,27.51 L172.20,27.66 L172.57,27.81 L172.94,27.96 L173.32,28.12 L173.71,28.27 L174.11,28.43 L174.51,28.58 L174.91,28.74 L175.33,28.90 L175.75,29.07 L176.18,29.23 L176.61,29.40 L177.05,29.57 L177.50,29.74 L177.96,29.91 L178.42,30.08 L178.89,30.25 L179.37,30.43 L179.85,30.61 L180.35,30.79 L180.85,30.97 L181.36,31.15 L181.88,31.34 L182.41,31.53 L182.94,31.71 L183.49,31.91 L184.04,32.10 L184.60,32.29 L185.17,32.49 L185.76,32.68 L186.35,32.88 L186.95,33.09 L187.55,33.29 L188.17,33.49 L188.80,33.70 L189.44,33.91 L190.09,34.12 L190.75,34.33 L191.43,34.55 L192.11,34.76 L192.80,34.98 L193.51,35.20 L194.22,35.42 L194.95,35.65 L195.69,35.87 L196.44,36.10 L197.21,36.33 L197.98,36.56 L198.77,36.79 L199.58,37.03 L200.39,37.27 L201.22,37.51 L202.06,37.75 L202.92,37.99 L203.79,38.24 L204.67,38.48 L205.57,38.73 L206.48,38.98 L207.41,39.23 L208.35,39.49 L209.31,39.74 L210.28,40.00 L211.27,40.26 L212.28,40.52 L213.30,40.78 L214.34,41.04 L215.40,41.30 L216.47,41.57 L217.56,41.84 L218.67,42.10 L219.79,42.37 L220.94,42.64 L222.10,42.91 L223.28,43.19 L224.48,43.46 L225.70,43.74 L226.94,44.01 L228.20,44.29 L229.49,44.57 L230.79,44.85 L232.11,45.13 L233.46,45.41 L234.82,45.69 L236.21,45.97 L237.62,46.25 L239.06,46.54 L240.52,46.82 L242.00,47.11 L243.50,47.39 L245.03,47.68 L246.59,47.96 L248.17,48.25 L249.78,48.54 L251.41,48.83 L253.07,49.11 L254.75,49.40 L256.47,49.69 L258.21,49.98 L259.98,50.27 L261.78,50.56 L263.60,50.85 L265.46,51.14 L267.35,51.43 L269.27,51.72 L271.22,52.01 L273.20,52.30 L275.21,52.59 L277.26,52.88 L279.34,53.17 L281.45,53.46 L283.60,53.75 L285.78,54.04 L288.00,54.33 L290.26,54.62 L292.55,54.91 L294.88,55.20 L297.24,55.49 L299.65,55.78 L302.09,56.06 L304.58,56.35 L307.10,56.64 L309.67,56.92 L312.27,57.21 L314.92,57.49 L317.62,57.78 L320.35,58.06 L323.14,58.34 L325.96,58.62 L328.83,58.90 L331.75,59.18 L334.72,59.46 L337.74,59.74 L340.80,60.02 L343.91,60.29 L347.08,60.57 L350.30,60.84 L353.57,61.11 L356.89,61.39 L360.26,61.66 L363.69,61.93 L367.18,62.19 L370.73,62.46 L374.33,62.73 L377.99,62.99 L381.71,63.25 L385.49,63.51 L389.33,63.77 L393.23,64.03 L397.20,64.29 L401.23,64.54 L405.33,64.80 L409.49,65.05" fill="none" stroke="#ff0000" stroke-width="1.45" stroke-linejoin="miter"/>
<g fill="#000">
<text transform="translate(43.00,81.50) scale(1,1.02)" font-size="17.7" text-anchor="end">0.6</text>
<text transform="translate(43.00,181.60) scale(1,1.02)" font-size="17.7" text-anchor="end">0.4</text>
<text transform="translate(43.00,281.70) scale(1,1.02)" font-size="17.7" text-anchor="end">0.2</text>
<text transform="translate(43.00,381.80) scale(1,1.02)" font-size="17.7" text-anchor="end">0</text>
<text transform="translate(52.50,395.85) scale(1,1.06)" font-size="17.7" text-anchor="middle">0</text>
<text transform="translate(145.20,395.85) scale(1,1.06)" font-size="17.7" text-anchor="middle">2000</text>
<text transform="translate(237.90,395.85) scale(1,1.06)" font-size="17.7" text-anchor="middle">4000</text>
<text transform="translate(330.60,395.85) scale(1,1.06)" font-size="17.7" text-anchor="middle">6000</text>
<text transform="translate(423.30,395.85) scale(1,1.06)" font-size="17.7" text-anchor="middle">8000</text>
<text transform="translate(143.80,36.90) scale(1,1.05)" font-size="12.8" text-anchor="end">0.6</text>
<text transform="translate(143.80,67.60) scale(1,1.05)" font-size="12.8" text-anchor="end">0.4</text>
<text transform="translate(143.80,98.30) scale(1,1.05)" font-size="12.8" text-anchor="end">0.2</text>
<text transform="translate(143.80,129.00) scale(1,1.05)" font-size="12.8" text-anchor="end">0</text>
<text transform="translate(149.90,138.70) scale(1,1.05)" font-size="12.3" text-anchor="middle">0</text>
<text transform="translate(193.23,138.70) scale(1,1.05)" font-size="12.3" text-anchor="middle">25</text>
<text transform="translate(236.57,138.70) scale(1,1.05)" font-size="12.3" text-anchor="middle">50</text>
<text transform="translate(279.90,138.70) scale(1,1.05)" font-size="12.3" text-anchor="middle">75</text>
<text transform="translate(323.23,138.70) scale(1,1.05)" font-size="12.3" text-anchor="middle">100</text>
<text transform="translate(366.56,138.70) scale(1,1.05)" font-size="12.3" text-anchor="middle">125</text>
<text transform="translate(409.89,138.70) scale(1,1.05)" font-size="12.3" text-anchor="middle">150</text>
<text transform="translate(423.00,413.40) scale(1,0.96)" font-size="17.7" text-anchor="end">Energy (keV)</text>
<text transform="translate(12.6,38) rotate(-89.9) scale(1,1)" font-size="17.5">QF<tspan font-size="12.8" dy="5.9">He</tspan></text>
<text transform="translate(145.50,186.30) scale(1,1.03)" font-size="19.6">He ions in liquid He</text>
<text transform="translate(66.20,310.90) scale(1,1.02)" font-size="14.3">Calculations:</text>
</g>
<text transform="translate(257.00,256.30) scale(1,1.02)" font-size="14.2" fill="#00ff00">Exp.: J.S. Adams, PhD 2001</text>
<text transform="translate(66.20,325.70) scale(1,1.02)" font-size="14.3" fill="#0000ff">T.M. Ito et al., PRC 88 (2013) <tspan dx="0.6">025805</tspan></text>
<text transform="translate(66.20,340.60) scale(1,1.02)" font-size="14.3" fill="#ff0000">V.I. Tretyak, APP 33 (2010) 40 <tspan dx="1.1">-</tspan> kB=1.64e-3 g/(MeV cm<tspan font-size="10.3" dy="-6.6" dx="0.3">2</tspan><tspan dy="6.6" dx="0.2">)</tspan></text>
</svg>
</body></html>
